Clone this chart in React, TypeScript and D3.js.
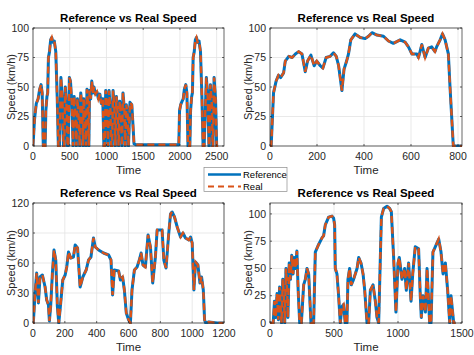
import React from "react";
import * as d3 from "d3";

type P = [number, number];

const BLUE = "#0072BD";
const ORANGE = "#D95319";
const TITLE = "Reference vs Real Speed";

// Panel 1 (top-left)
const ref1: P[] = [
  [0, 0], [20, 22], [30, 28], [45, 36], [70, 40], [90, 48], [110, 52], [125, 45], [140, 0], [165, 0],
  [175, 30], [190, 42], [200, 45], [210, 75], [225, 80], [240, 90], [255, 92], [270, 88], [290, 89],
  [310, 80], [330, 40], [345, 0], [360, 0], [380, 58], [400, 40], [415, 0], [425, 0], [440, 50],
  [460, 30], [470, 0], [480, 0], [495, 58], [510, 55], [530, 35], [545, 0], [560, 42], [580, 25],
  [590, 0], [605, 40], [625, 20], [635, 0], [650, 45], [670, 30], [680, 0], [690, 40], [710, 25],
  [720, 0], [735, 48], [750, 35], [760, 0], [770, 47], [785, 40], [800, 55], [815, 45], [830, 50],
  [850, 44], [870, 46], [890, 40], [910, 44], [930, 36], [950, 40], [965, 0], [975, 0], [990, 47],
  [1010, 30], [1020, 0], [1035, 47], [1055, 30], [1065, 0], [1075, 0], [1090, 47], [1110, 30],
  [1120, 0], [1135, 42], [1155, 25], [1165, 0], [1180, 38], [1200, 22], [1210, 0], [1225, 45],
  [1245, 30], [1255, 0], [1270, 35], [1290, 25], [1300, 0], [1320, 37], [1345, 35], [1375, 2],
  [1400, 1], [1700, 1], [1985, 1], [1995, 30], [2010, 35], [2030, 38], [2045, 40], [2060, 48],
  [2080, 52], [2095, 45], [2110, 0], [2135, 0], [2145, 30], [2160, 42], [2170, 45], [2180, 75],
  [2195, 80], [2210, 90], [2225, 92], [2240, 88], [2260, 89], [2280, 80], [2300, 40], [2315, 0],
  [2330, 0], [2360, 58], [2380, 40], [2395, 0], [2400, 0], [2415, 52], [2435, 35], [2445, 0],
  [2450, 0], [2465, 58], [2485, 40], [2500, 0], [2520, 0],
];
const real1: P[] = [...ref1];

// Panel 2 (top-right)
const ref2: P[] = [
  [0, 0], [5, 0], [15, 45], [26, 55], [36, 60], [45, 58], [58, 62], [65, 72], [80, 76], [94, 75],
  [108, 78], [122, 80], [136, 78], [150, 63], [160, 72], [174, 77], [188, 68], [199, 72], [214, 68],
  [225, 66], [239, 75], [256, 76], [270, 79], [282, 76], [292, 68], [306, 47], [315, 65], [326, 72],
  [334, 78], [344, 90], [362, 95], [384, 92], [405, 91], [419, 93], [434, 96], [455, 94], [483, 93],
  [504, 89], [525, 87], [554, 90], [575, 88], [589, 84], [604, 78], [625, 78], [632, 75], [646, 86],
  [660, 75], [674, 83], [688, 84], [702, 80], [709, 84], [724, 90], [734, 95], [745, 90], [759, 78],
  [766, 50], [773, 25], [780, 0], [817, 0],
];
const real2: P[] = [...ref2];

// Panel 3 (bottom-left)
const ref3: P[] = [
  [0, 0], [2, 0], [13, 30], [23, 50], [34, 20], [44, 46], [59, 48], [76, 36], [86, 23], [97, 18],
  [103, 2], [111, 17], [122, 50], [132, 73], [143, 63], [153, 17], [162, 0], [174, 20], [187, 43],
  [202, 48], [212, 56], [223, 71], [237, 65], [254, 66], [265, 78], [280, 75], [296, 36], [313, 46],
  [334, 53], [349, 63], [364, 66], [380, 85], [391, 76], [412, 73], [443, 70], [475, 68], [490, 63],
  [500, 28], [511, 53], [538, 52], [549, 43], [563, 46], [574, 33], [586, 10], [601, 3], [612, 0],
  [622, 33], [637, 53], [654, 56], [668, 63], [679, 70], [691, 58], [706, 56], [723, 88], [738, 76],
  [752, 40], [769, 66], [780, 93], [811, 93], [822, 63], [836, 55], [853, 90], [864, 109], [874, 111],
  [889, 106], [906, 96], [927, 86], [942, 90], [958, 85], [979, 83], [990, 86], [1000, 80],
  [1011, 33], [1021, 61], [1036, 58], [1049, 40], [1059, 46], [1070, 33], [1078, 3], [1085, 0],
  [1105, 1], [1158, 0], [1196, 0],
];
const real3: P[] = [...ref3];

// Panel 4 (bottom-right)
const ref4: P[] = [
  [0, 0], [25, 0], [35, 20], [45, 5], [55, 27], [65, 3], [75, 33], [85, 10], [90, 0], [100, 40],
  [110, 20], [115, 0], [125, 50], [135, 25], [140, 5], [150, 55], [160, 40], [170, 62], [180, 45],
  [190, 60], [200, 50], [210, 66], [220, 30], [232, 0], [245, 0], [263, 35], [276, 40], [289, 50],
  [302, 45], [320, 0], [341, 0], [354, 65], [380, 72], [406, 78], [419, 80], [432, 90], [458, 97],
  [484, 98], [497, 96], [505, 90], [510, 50], [523, 45], [536, 25], [549, 0], [562, 15], [575, 17],
  [588, 0], [601, 0], [609, 40], [622, 50], [635, 35], [653, 40], [680, 50], [693, 60], [711, 55],
  [727, 45], [740, 30], [758, 0], [771, 0], [784, 30], [805, 35], [823, 20], [836, 5], [849, 0],
  [870, 97], [888, 105], [914, 107], [935, 105], [948, 102], [966, 60], [984, 10], [1000, 55],
  [1010, 60], [1031, 40], [1052, 50], [1065, 30], [1083, 55], [1102, 20], [1115, 45], [1135, 70],
  [1161, 68], [1174, 25], [1182, 5], [1195, 25], [1214, 10], [1227, 50], [1247, 0], [1258, 0],
  [1273, 65], [1292, 70], [1318, 77], [1336, 65], [1352, 45], [1370, 55], [1388, 30], [1404, 0],
  [1414, 25], [1435, 0], [1450, 0],
];
const real4: P[] = [...ref4];

const xTicks1 = [0, 500, 1000, 1500, 2000, 2500];
const xTicks2 = [0, 200, 400, 600, 800];
const xTicks3 = [0, 200, 400, 600, 800, 1000, 1200];
const xTicks4 = [0, 500, 1000, 1500];
const yTicks100 = [0, 25, 50, 75, 100];
const yTicks120 = [0, 30, 60, 90, 120];

type Panel = {
  ref: P[];
  real: P[];
  xd: [number, number];
  yd: [number, number];
  xt: number[];
  yt: number[];
  x0: number;
  x1: number;
  y0: number;
  y1: number;
};

const panels: Panel[] = [
  { ref: ref1, real: real1, xd: [0, 2600], yd: [0, 100], xt: xTicks1, yt: yTicks100, x0: 33, x1: 224, y0: 28, y1: 146 },
  { ref: ref2, real: real2, xd: [0, 817], yd: [0, 100], xt: xTicks2, yt: yTicks100, x0: 270, x1: 462, y0: 28, y1: 146 },
  { ref: ref3, real: real3, xd: [0, 1200], yd: [0, 120], xt: xTicks3, yt: yTicks120, x0: 33, x1: 224, y0: 203, y1: 323 },
  { ref: ref4, real: real4, xd: [0, 1500], yd: [0, 110], xt: xTicks4, yt: yTicks100, x0: 270, x1: 462, y0: 203, y1: 323 },
];

const FONT = "'Liberation Sans', Arial, Helvetica, sans-serif";

function Axes({ p, i }: { p: Panel; i: number }) {
  const x = d3.scaleLinear().domain(p.xd).range([p.x0, p.x1]);
  const y = d3.scaleLinear().domain(p.yd).range([p.y1, p.y0]);
  const line = d3.line<P>().x((d) => x(d[0])).y((d) => y(d[1]));
  const cx = (p.x0 + p.x1) / 2;
  const cy = (p.y0 + p.y1) / 2;
  const clipId = `clip${i}`;
  return (
    <g fontFamily={FONT}>
      <rect x={p.x0} y={p.y0} width={p.x1 - p.x0} height={p.y1 - p.y0} fill="#fff" />
      {p.xt.map((t) => (
        <line key={"gx" + t} x1={x(t)} x2={x(t)} y1={p.y0} y2={p.y1} stroke="#e3e3e3" strokeWidth={0.8} />
      ))}
      {p.yt.map((t) => (
        <line key={"gy" + t} x1={p.x0} x2={p.x1} y1={y(t)} y2={y(t)} stroke="#e3e3e3" strokeWidth={0.8} />
      ))}
      <clipPath id={clipId}>
        <rect x={p.x0} y={p.y0 - 1} width={p.x1 - p.x0} height={p.y1 - p.y0 + 2} />
      </clipPath>
      <g clipPath={`url(#${clipId})`}>
        <path d={line(p.ref) || ""} fill="none" stroke={BLUE} strokeWidth={3} strokeLinejoin="round" />
        <path d={line(p.real) || ""} fill="none" stroke={ORANGE} strokeWidth={2.4} strokeDasharray="7 4" />
      </g>
      <rect x={p.x0} y={p.y0} width={p.x1 - p.x0} height={p.y1 - p.y0} fill="none" stroke="#262626" strokeWidth={0.7} />
      {p.xt.map((t) => (
        <g key={"tx" + t}>
          <line x1={x(t)} x2={x(t)} y1={p.y1} y2={p.y1 - 2} stroke="#262626" strokeWidth={0.7} />
          <line x1={x(t)} x2={x(t)} y1={p.y0} y2={p.y0 + 2} stroke="#262626" strokeWidth={0.7} />
          <text x={x(t)} y={p.y1 + 13.5} fontSize={10.5} textAnchor="middle" fill="#262626">{t}</text>
        </g>
      ))}
      {p.yt.map((t) => (
        <g key={"ty" + t}>
          <line x1={p.x0} x2={p.x0 + 2} y1={y(t)} y2={y(t)} stroke="#262626" strokeWidth={0.7} />
          <line x1={p.x1} x2={p.x1 - 2} y1={y(t)} y2={y(t)} stroke="#262626" strokeWidth={0.7} />
          <text x={p.x0 - 4} y={y(t) + 3.7} fontSize={10.5} textAnchor="end" fill="#262626">{t}</text>
        </g>
      ))}
      <text x={cx} y={p.y0 - 6} fontSize={11.5} fontWeight="bold" textAnchor="middle" fill="#000">{TITLE}</text>
      <text x={cx} y={p.y1 + 28} fontSize={11.5} textAnchor="middle" fill="#262626">Time</text>
      <text transform={`translate(${p.x0 - 18},${cy}) rotate(-90)`} fontSize={11} textAnchor="middle" fill="#262626">Speed (km/h)</text>
    </g>
  );
}

export default function App() {
  return (
    <svg width={474} height={355} style={{ position: "absolute", left: 0, top: 0, background: "#fff" }}>
      <rect width={474} height={355} fill="#fff" />
      {panels.map((p, i) => (
        <Axes key={i} p={p} i={i} />
      ))}
      <g fontFamily={FONT}>
        <rect x={204} y={167.5} width={83} height={24} fill="#fff" stroke="#8c8c8c" strokeWidth={0.7} />
        <line x1={208} x2={241} y1={174.5} y2={174.5} stroke={BLUE} strokeWidth={2.4} />
        <text x={243} y={178} fontSize={9.5} fill="#000">Reference</text>
        <line x1={208} x2={241} y1={186.5} y2={186.5} stroke={ORANGE} strokeWidth={2.2} strokeDasharray="6 4" />
        <text x={243} y={190} fontSize={9.5} fill="#000">Real</text>
      </g>
    </svg>
  );
}
